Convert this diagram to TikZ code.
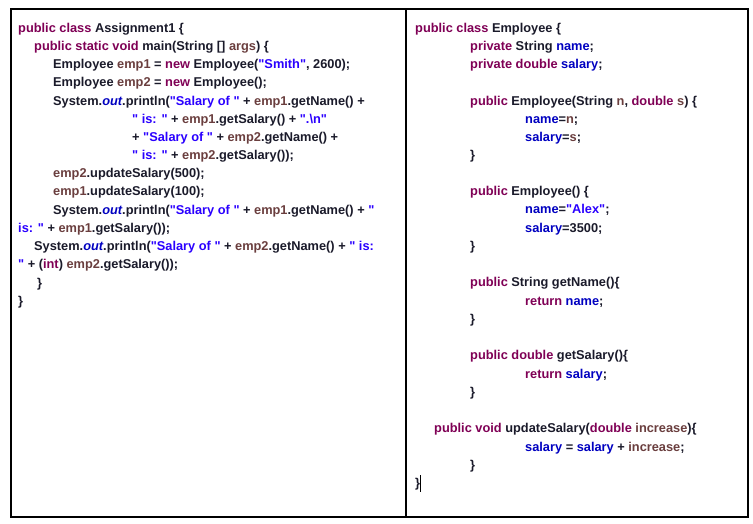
\documentclass[tikz,border=0pt]{standalone}
\usepackage{fontspec}
\defaultfontfeatures{}
\defaultfontfeatures[\rmfamily]{}
\setmainfont{Liberation Sans}[RawFeature={-tlig}]
\definecolor{kwc}{HTML}{7F0055}
\definecolor{varc}{HTML}{6A3E3E}
\definecolor{strc}{HTML}{2A00FF}
\definecolor{fldc}{HTML}{0000C0}
\definecolor{plc}{HTML}{1A1A2A}
\newcommand{\K}[1]{\textcolor{kwc}{#1}}
\newcommand{\V}[1]{\textcolor{varc}{#1}}
\newcommand{\St}[1]{\textcolor{strc}{#1}}
\newcommand{\F}[1]{\textcolor{fldc}{#1}}
\newcommand{\Ou}{\textcolor{fldc}{\itshape out}}
\newcommand{\q}{\symbol{34}}
\begin{document}
\begin{tikzpicture}[x=1pt,y=-1pt,
  code/.style={anchor=base west,inner sep=0pt,font=\fontsize{12.8}{14}\selectfont\bfseries,text=plc}]
\useasboundingbox (0,0) rectangle (753,523);
\draw[line width=1.6pt] (11,9) rectangle (748,517);
\draw[line width=1.6pt] (406,9) -- (406,517);
% left
\node[code] (l1) at (18,32) {\K{public class} Assignment1 \{};
\node[code] (l2) at (34,50) {\K{public static void} main(String [] \V{args}) \{};
\node[code] (l3) at (53,68) {Employee \V{emp1} = \K{new} Employee(\St{\q Smith\q}, 2600);};
\node[code] (l4) at (53,86.5) {Employee \V{emp2} = \K{new} Employee();};
\node[code] (l5) at (53,105) {System.\Ou.println(\St{\q Salary of \q} + \V{emp1}.getName() +};
\node[code] (l6) at (132,123) {\St{\q\ is: \q} + \V{emp1}.getSalary() + \St{\q.\textbackslash n\q}};
\node[code] (l7) at (132,141) {+ \St{\q Salary of \q} + \V{emp2}.getName() +};
\node[code] (l8) at (132,159) {\St{\q\ is: \q} + \V{emp2}.getSalary());};
\node[code] (l9) at (53,177) {\V{emp2}.updateSalary(500);};
\node[code] (l10) at (53,195) {\V{emp1}.updateSalary(100);};
\node[code] (l11) at (53,214) {System.\Ou.println(\St{\q Salary of \q} + \V{emp1}.getName() + \St{\q}};
\node[code] (l12) at (18,232) {\St{is: \q} + \V{emp1}.getSalary());};
\node[code] (l13) at (34,250) {System.\Ou.println(\St{\q Salary of \q} + \V{emp2}.getName() + \St{\q\ is:}};
\node[code] (l14) at (18,268) {\St{\q} + (\K{int}) \V{emp2}.getSalary());};
\node[code] (l15) at (37,287) {\}};
\node[code] (l16) at (18,305) {\}};
% right
\node[code] (r1) at (415,32) {\K{public class} Employee \{};
\node[code] (r2) at (470,50) {\K{private} String \F{name};};
\node[code] (r3) at (470,68) {\K{private double} \F{salary};};
\node[code] (r4) at (470,105) {\K{public} Employee(String \V{n}, \K{double} \V{s}) \{};
\node[code] (r5) at (525,123) {\F{name}=\V{n};};
\node[code] (r6) at (525,141) {\F{salary}=\V{s};};
\node[code] (r7) at (470,159) {\}};
\node[code] (r8) at (470,195) {\K{public} Employee() \{};
\node[code] (r9) at (525,213) {\F{name}=\St{\q Alex\q};};
\node[code] (r10) at (525,232) {\F{salary}=3500;};
\node[code] (r11) at (470,250) {\}};
\node[code] (r12) at (470,286) {\K{public} String getName()\{};
\node[code] (r13) at (525,305) {\K{return} \F{name};};
\node[code] (r14) at (470,323) {\}};
\node[code] (r15) at (470,359) {\K{public double} getSalary()\{};
\node[code] (r16) at (525,378) {\K{return} \F{salary};};
\node[code] (r17) at (470,396) {\}};
\node[code] (r18) at (434,432) {\K{public void} updateSalary(\K{double} \V{increase})\{};
\node[code] (r19) at (525,451) {\F{salary} = \F{salary} + \V{increase};};
\node[code] (r20) at (470,469) {\}};
\node[code] (r21) at (415,487) {\}};
\draw[line width=0.8pt] (420.5,475) -- (420.5,492);
\end{tikzpicture}
\end{document}
